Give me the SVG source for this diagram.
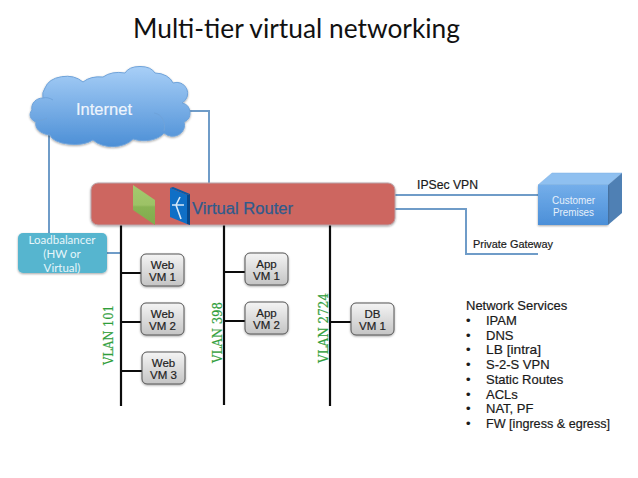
<svg xmlns="http://www.w3.org/2000/svg" width="638" height="478" viewBox="0 0 638 478">
<defs>
<linearGradient id="cloudG" x1="0" y1="0" x2="0" y2="1"><stop offset="0" stop-color="#a8cff7"/><stop offset="1" stop-color="#4c8fd6"/></linearGradient>
<linearGradient id="vmG" x1="0" y1="0" x2="0" y2="1"><stop offset="0" stop-color="#f4f4f4"/><stop offset="1" stop-color="#c4c4c4"/></linearGradient>
<linearGradient id="boxG" x1="0" y1="0" x2="0" y2="1"><stop offset="0" stop-color="#74aeea"/><stop offset="1" stop-color="#4b8fd8"/></linearGradient>
<linearGradient id="leafG" x1="0" y1="0" x2="0" y2="1"><stop offset="0" stop-color="#a5c96e"/><stop offset="0.5" stop-color="#9cc266"/><stop offset="0.55" stop-color="#88b354"/><stop offset="1" stop-color="#80ab4c"/></linearGradient>
<filter id="sh" x="-10%" y="-10%" width="120%" height="125%"><feDropShadow dx="0" dy="1" stdDeviation="0.8" flood-color="#000" flood-opacity="0.35"/></filter>
</defs>
<style>
text{font-family:"Liberation Sans",Arial,sans-serif}
.blue{fill:none;stroke:#6f9cc8;stroke-width:2}
.bus{fill:none;stroke:#0c0c0c;stroke-width:2.200}
.vm{fill:url(#vmG);stroke:#555;stroke-width:1;filter:url(#sh)}
.vmt{font-size:11.5px;fill:#222;text-anchor:middle;stroke:#222;stroke-width:0.2}
.vlan{font-family:"DejaVu Serif","Liberation Serif",serif;font-size:12px;fill:#2f9e3a;text-anchor:middle;stroke:#2f9e3a;stroke-width:0.2}
.lab{font-size:13px;fill:#1a1a1a;stroke:#1a1a1a;stroke-width:0.2}
.white{fill:#e6f0fb;text-anchor:middle}
.lb{font-family:Lato,"Open Sans",sans-serif;font-size:11.5px;fill:#e6f5fa;text-anchor:middle}
</style>
<rect width="638" height="478" fill="#fff"/>
<text x="133" y="38" font-size="27" style="font-family:Lato,'Open Sans',sans-serif" fill="#111" textLength="327" lengthAdjust="spacingAndGlyphs">Multi-tier virtual networking</text>
<g id="connectors">
<path class="blue" d="M49 134V234"/>
<path class="blue" d="M186 111H209V184"/>
<path class="blue" d="M107 253H121"/>
<path class="blue" d="M394 195H540"/>
<path class="blue" d="M394 209H466V254H538"/>
<path class="bus" d="M121 225V406M121 273H141M121 322H141M120 371H142"/>
<path class="bus" d="M224 225V405M224 272H245M224 321H245"/>
<path class="bus" d="M330 225V406M330 322H351"/>
</g>
<g id="internet">
<path d="M43 98A14 13 0 0 1 45 88A22 16 0 0 1 83 82A21 13 0 0 1 103 77A22 14 0 0 1 125 73A16 10 0 0 1 155 73A19 14 0 0 1 173 83A11 11 0 0 1 182 103A10 10 0 0 1 184 122A12 11 0 0 1 164 133A22 13 0 0 1 133 139A24 16 0 0 1 93 140A24 11 0 0 1 50 135A16 11 0 0 1 36 122A10 8 0 0 1 32 110A11 10 0 0 1 43 98Z" fill="url(#cloudG)" stroke="#6fa3da" stroke-width="1" filter="url(#sh)"/>
<path d="M154 113C162 114 166 122 164 131M36 120C40 121 44 120 47 118M43 98C46 97 50 98 53 100" fill="none" stroke="#6fa3da" stroke-width="1"/>
<text x="104" y="115" font-size="16.5" fill="#eef5fd" stroke="#eef5fd" stroke-width="0.2" text-anchor="middle">Internet</text>
</g>
<g id="virtual-router">
<rect x="91" y="183" width="304" height="42" rx="7" fill="#cd6660" stroke="#b9a3a8" stroke-width="1" filter="url(#sh)"/>
<path d="M133 185L155 200V225L133 210Z" fill="url(#leafG)"/>
<path d="M170 188L187 195V224L170 217Z" fill="#0f6fc6"/>
<path d="M170 188L173 187L190 194L187 195Z" fill="#0a5aa6"/>
<path d="M187 195L190 194V225L187 224Z" fill="#08488a"/>
<path d="M172 205H184M180 197L176 205M176 205L181 219" stroke="#d6e8f8" stroke-width="1.6" fill="none"/>
<text x="192" y="214" font-size="16" fill="#2f5b8c" stroke="#2f5b8c" stroke-width="0.25" textLength="101" lengthAdjust="spacingAndGlyphs">Virtual Router</text>
</g>
<g id="loadbalancer">
<rect x="18" y="233" width="89" height="40" rx="5" fill="#57b5cf" filter="url(#sh)"/>
<text class="lb" x="62" y="244">Loadbalancer</text>
<text class="lb" x="62" y="258">(HW or</text>
<text class="lb" x="62" y="272">Virtual)</text>
</g>
<g id="web-vm-1"><rect class="vm" x="141" y="254" width="43" height="32" rx="5"/><text class="vmt" x="162.500" y="269">Web</text><text class="vmt" x="162.500" y="281">VM 1</text></g>
<g id="web-vm-2"><rect class="vm" x="141" y="303" width="43" height="32" rx="5"/><text class="vmt" x="162.500" y="318">Web</text><text class="vmt" x="162.500" y="330">VM 2</text></g>
<g id="web-vm-3"><rect class="vm" x="142" y="352" width="43" height="32" rx="5"/><text class="vmt" x="163.500" y="367">Web</text><text class="vmt" x="163.500" y="379">VM 3</text></g>
<g id="app-vm-1"><rect class="vm" x="245" y="253" width="43" height="32" rx="5"/><text class="vmt" x="266.500" y="268">App</text><text class="vmt" x="266.500" y="280">VM 1</text></g>
<g id="app-vm-2"><rect class="vm" x="245" y="302" width="43" height="32" rx="5"/><text class="vmt" x="266.500" y="317">App</text><text class="vmt" x="266.500" y="329">VM 2</text></g>
<g id="db-vm-1"><rect class="vm" x="351" y="303" width="43" height="32" rx="5"/><text class="vmt" x="372.500" y="318">DB</text><text class="vmt" x="372.500" y="330">VM 1</text></g>
<g id="vlan-labels">
<text class="vlan" transform="translate(113 335) rotate(-90)" textLength="60" lengthAdjust="spacingAndGlyphs">VLAN 101</text>
<text class="vlan" transform="translate(222 332.500) rotate(-90)" textLength="61" lengthAdjust="spacingAndGlyphs">VLAN 398</text>
<text class="vlan" transform="translate(328 328) rotate(-90)" textLength="70" lengthAdjust="spacingAndGlyphs">VLAN 2724</text>
</g>
<g id="customer-premises">
<path d="M538 185L552 173H622L608 185Z" fill="#8fc0f0" stroke="#7fb0e4" stroke-width="0.5"/>
<path d="M608 185L622 173V213L608 225Z" fill="#4f80b4"/>
<rect x="538" y="185" width="70" height="40" fill="url(#boxG)" filter="url(#sh)"/>
<text class="white" x="573.500" y="204" font-size="11" textLength="43" lengthAdjust="spacingAndGlyphs">Customer</text>
<text class="white" x="573.500" y="216" font-size="11" textLength="41" lengthAdjust="spacingAndGlyphs">Premises</text>
</g>
<text class="lab" x="417" y="189" textLength="61" lengthAdjust="spacingAndGlyphs">IPSec VPN</text>
<text class="lab" x="473" y="248" style="font-size:11.500px" textLength="80" lengthAdjust="spacingAndGlyphs">Private Gateway</text>
<g id="network-services">
<text class="lab" x="466" y="310">Network Services</text>
<text class="lab" x="466" y="325">•</text><text class="lab" x="486" y="325">IPAM</text>
<text class="lab" x="466" y="340">•</text><text class="lab" x="486" y="340">DNS</text>
<text class="lab" x="466" y="354">•</text><text class="lab" x="486" y="354" textLength="55" lengthAdjust="spacingAndGlyphs">LB [intra]</text>
<text class="lab" x="466" y="369">•</text><text class="lab" x="486" y="369">S-2-S VPN</text>
<text class="lab" x="466" y="384">•</text><text class="lab" x="486" y="384">Static Routes</text>
<text class="lab" x="466" y="399">•</text><text class="lab" x="486" y="399">ACLs</text>
<text class="lab" x="466" y="413">•</text><text class="lab" x="486" y="413">NAT, PF</text>
<text class="lab" x="466" y="428">•</text><text class="lab" x="486" y="428" textLength="124" lengthAdjust="spacingAndGlyphs">FW [ingress &amp; egress]</text>
</g>
</svg>
